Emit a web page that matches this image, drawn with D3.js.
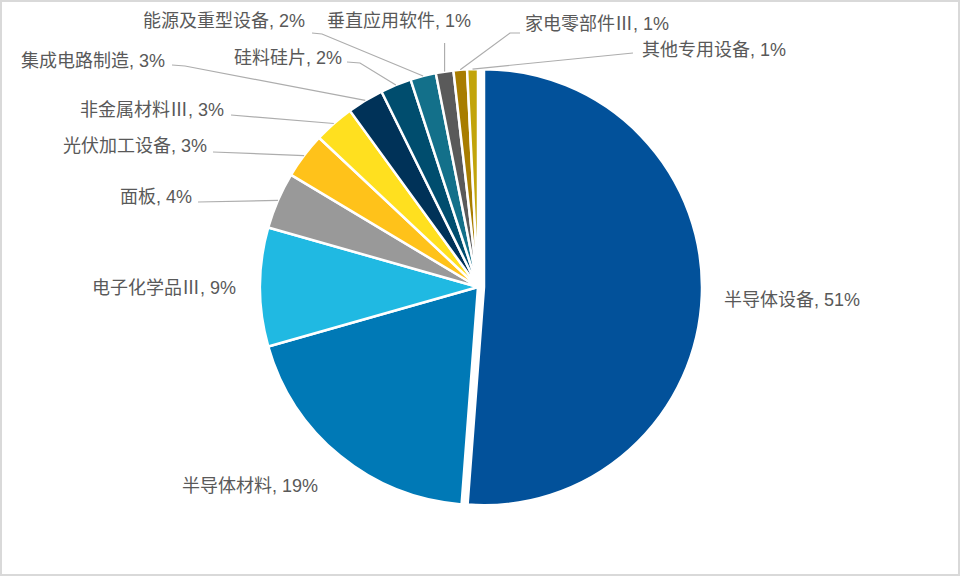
<!DOCTYPE html>
<html>
<head>
<meta charset="utf-8">
<script src="https://cdn.jsdelivr.net/npm/d3@7"></script>
<style>
  body { margin: 0; background: #fff; }
  svg { display: block; }
</style>
</head>
<body>
<div id="chart"></div>
<script>
// data (share of total, %)
const categories = ["半导体设备", "半导体材料", "电子化学品Ⅲ", "面板", "光伏加工设备", "非金属材料Ⅲ",
    "集成电路制造", "硅料硅片", "能源及重型设备", "垂直应用软件", "家电零部件Ⅲ", "其他专用设备"];
const values = [51.2, 19.4, 8.8, 4.2, 3.4, 3.0, 2.7, 2.3, 1.9, 1.3, 1.0, 0.8];
const colors = ["#02519A", "#0079B6", "#20B9E2", "#999999", "#FFC21A", "#FFE01F",
    "#003258", "#004D6E", "#13708A", "#5A5A5A", "#A87D00", "#C2A40A"];

const width = 960, height = 576;
const cx = 478, cy = 287, radius = 218, explode = 6;

// label placement: text anchor point + leader start/elbow (leader ends on the slice)
const labelLayout = [
    {x: 724, y: 306, anchor: "start", lead: null},
    {x: 182, y: 492, anchor: "start", lead: null},
    {x: 236, y: 294, anchor: "end", lead: null},
    {x: 192, y: 203, anchor: "end", lead: [[198, 202]]},
    {x: 207, y: 152, anchor: "end", lead: [[213, 152]]},
    {x: 224, y: 116, anchor: "end", lead: [[231, 115]]},
    {x: 165, y: 67, anchor: "end", lead: [[172, 65], [185, 66]]},
    {x: 342, y: 64, anchor: "end", lead: [[347, 62], [360, 63]]},
    {x: 305, y: 27, anchor: "end", lead: [[312, 33], [322, 34]]},
    {x: 327, y: 27, anchor: "start", lead: "down"},
    {x: 525, y: 30, anchor: "start", lead: [[520, 33], [510, 33]]},
    {x: 642, y: 56, anchor: "start", lead: [[633, 53]]}
];

const total = d3.sum(values);
const data = categories.map((c, i) => ({name: c, value: values[i], color: colors[i], layout: labelLayout[i]}));

const svg = d3.select("#chart").append("svg")
    .attr("width", width)
    .attr("height", height);

svg.append("rect")
    .attr("x", 1).attr("y", 1)
    .attr("width", width - 2).attr("height", height - 2)
    .attr("fill", "#fff")
    .attr("stroke", "#d9d9d9")
    .attr("stroke-width", 2);

const pie = d3.pie().sort(null).value(d => d.value);
const arc = d3.arc().innerRadius(0).outerRadius(radius);
const arcs = pie(data);

const g = svg.append("g").attr("transform", `translate(${cx},${cy})`);

g.selectAll("path.slice")
    .data(arcs)
    .enter().append("path")
    .attr("class", "slice")
    .attr("d", arc)
    .attr("fill", d => d.data.color)
    .attr("stroke", "#fff")
    .attr("stroke-width", 2.5)
    .attr("stroke-linejoin", "round")
    .attr("transform", (d, i) => {
        if (i !== 0) return null;
        const a = (d.startAngle + d.endAngle) / 2;
        return `translate(${explode * Math.sin(a)},${-explode * Math.cos(a)})`;
    });

// leader lines
const line = d3.line();
arcs.forEach(d => {
    const lay = d.data.layout;
    if (!lay.lead) return;
    const a = (d.startAngle + d.endAngle) / 2;
    const end = [cx + radius * Math.sin(a), cy - radius * Math.cos(a)];
    let pts;
    if (lay.lead === "down") {
        pts = [[end[0], lay.y + 16], end];
    } else {
        pts = lay.lead.concat([end]);
    }
    svg.append("path")
        .attr("d", line(pts))
        .attr("fill", "none")
        .attr("stroke", "#adadad")
        .attr("stroke-width", 1.2);
});

const labels = svg.selectAll("text.label")
    .data(arcs)
    .enter().append("text")
    .attr("class", "label")
    .attr("x", d => d.data.layout.x)
    .attr("y", d => d.data.layout.y)
    .attr("text-anchor", d => d.data.layout.anchor)
    .style("font-family", "'Liberation Sans', 'Noto Sans CJK SC', sans-serif")
    .style("font-size", "18px")
    .style("fill", "#595959");

// the roman numeral is drawn with the CJK font, like the original
labels.each(function(d) {
    const t = d3.select(this);
    const parts = d.data.name.split("Ⅲ");
    parts.forEach((p, k) => {
        if (p) t.append("tspan").text(p);
        if (k < parts.length - 1) {
            t.append("tspan")
                .style("font-family", "'Noto Sans CJK SC', sans-serif")
                .text("Ⅲ");
        }
    });
    t.append("tspan").text(`, ${Math.round(d.data.value / total * 100)}%`);
});
</script>
</body>
</html>
